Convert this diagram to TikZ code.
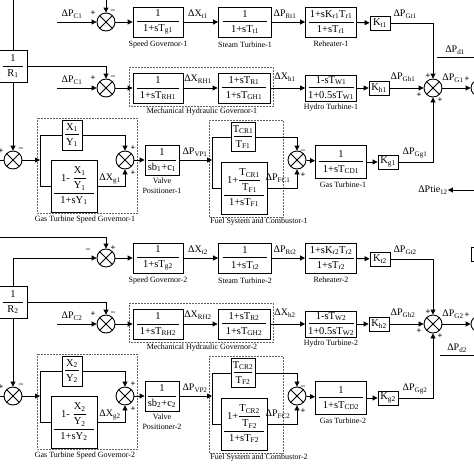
\documentclass[tikz,border=0pt]{standalone}
\usepackage{amsmath}
\usepackage{fontspec}
\setmainfont{Liberation Serif}
\usetikzlibrary{arrows.meta}

\newcommand{\sbs}[1]{\textsubscript{#1}}
\newcommand{\frb}[3]{$\genfrac{}{}{0.7pt}{0}{\makebox[#1]{#2}}{\makebox[#1]{#3}}$}

\tikzset{
	blk/.style={draw, line width=0.9pt, inner sep=1pt, font=\fontsize{10.5}{12}\selectfont},
	gain/.style={draw, line width=0.9pt, inner sep=1pt, minimum width=20pt, minimum height=14pt, font=\fontsize{10.5}{12}\selectfont},
	sumjn/.style={circle, draw, line width=0.9pt, minimum size=18pt, inner sep=0pt,
		path picture={\draw[line width=0.9pt] (path picture bounding box.north west) -- (path picture bounding box.south east)
			(path picture bounding box.south west) -- (path picture bounding box.north east);}},
	blkcap/.style={font=\fontsize{8}{10}\selectfont, inner sep=0pt},
	sig/.style={font=\fontsize{10}{12}\selectfont, inner sep=0pt},
	sgn/.style={font=\fontsize{8.5}{8}\selectfont\bfseries, inner sep=0pt},
	grp/.style={densely dotted, line width=0.5pt, draw=black!60},
	ar/.style={-{Triangle[length=5pt,width=5pt]}, line width=0.9pt},
	ln/.style={line width=0.9pt}
}

\begin{document}
\begin{tikzpicture}[x=1pt,y=-1pt]
	\useasboundingbox (0,0) rectangle (474,474);
	\clip (0,0) rectangle (474,474);

	\foreach \a/\oy in {1/0, 2/236} {
		% steam branch
		\node[sumjn] (sa\a) at (106,22+\oy) {};
		\node[blk, minimum width=50pt, minimum height=30pt] (sg\a) at (158,22+\oy) {\frb{42pt}{1}{1+sT\sbs{g\a}}};
		\node[blk, minimum width=53pt, minimum height=30pt] (st\a) at (245,22+\oy) {\frb{44pt}{1}{1+sT\sbs{t\a}}};
		\node[blk, minimum width=51pt, minimum height=30pt] (rh\a) at (331,22+\oy) {\frb{45pt}{1+sK\sbs{r\a}T\sbs{r\a}}{1+sT\sbs{r\a}}};
		\node[gain] (kt\a) at (380,23+\oy) {K\sbs{t\a}};
		\node[blkcap] (lsg\a) at (158,45+\oy) {Speed Governor-\a};
		\node[blkcap] (lst\a) at (245,45+\oy) {Steam Turbine-\a};
		\node[blkcap] (lrh\a) at (331,44+\oy) {Reheater-\a};
		\node[sig] (lxt\a) at (198,14+\oy) {ΔX\sbs{t\a}};
		\node[sig] (lprt\a) at (285,14+\oy) {ΔP\sbs{Rt\a}};
		\node[sig] (lpgt\a) at (405,14+\oy) {ΔP\sbs{Gt\a}};

		% hydro branch
		\node[sumjn] (sb\a) at (106,88+\oy) {};
		\node[blk, minimum width=50pt, minimum height=30pt] (rhg\a) at (158,88+\oy) {\frb{42pt}{1}{1+sT\sbs{RH\a}}};
		\node[blk, minimum width=52pt, minimum height=30pt] (ghb\a) at (244,88+\oy) {\frb{44pt}{1+sT\sbs{R\a}}{1+sT\sbs{GH\a}}};
		\node[blk, minimum width=51pt, minimum height=26pt] (hy\a) at (331,88+\oy) {\frb{45pt}{1-sT\sbs{W\a}}{1+0.5sT\sbs{W\a}}};
		\node[gain] (kh\a) at (379,88+\oy) {K\sbs{h\a}};
		\draw[grp] (129,67+\oy) rectangle (273,106+\oy);
		\node[blkcap] (lmh\a) at (202,112+\oy) {Mechanical Hydraulic Governor-\a};
		\node[blkcap] (lhy\a) at (331,108+\oy) {Hydro Turbine-\a};
		\node[sig] (lpc\a) at (72,80+\oy) {ΔP\sbs{C\a}};
		\node[sig] (lxrh\a) at (198,79+\oy) {ΔX\sbs{RH\a}};
		\node[sig] (lxh\a) at (285,77+\oy) {ΔX\sbs{h\a}};
		\node[sig] (lpgh\a) at (403,77+\oy) {ΔP\sbs{Gh\a}};

		% gas branch
		\node[sumjn] (sc\a) at (13,160+\oy) {};
		\coordinate (ja\a) at (40,160+\oy);
		\node[blk, minimum width=20pt, minimum height=30pt] (xy\a) at (72,135+\oy) {\frb{14pt}{X\sbs{\a}}{Y\sbs{\a}}};
		\node[blk, minimum width=46pt, minimum height=52pt] (xyb\a) at (74,186+\oy)
			{\frb{40pt}{1- \(\genfrac{}{}{0.6pt}{0}{\mbox{X\sbs{\a}}}{\mbox{Y\sbs{\a}}}\)}{1+sY\sbs{\a}}};
		\node[sumjn] (sd\a) at (125,160+\oy) {};
		\node[blk, minimum width=34pt, minimum height=30pt] (vp\a) at (162,160+\oy) {\frb{28pt}{1}{sb\sbs{\a}+c\sbs{\a}}};
		\coordinate (jb\a) at (212,160+\oy);
		\node[blk, minimum width=24pt, minimum height=29pt] (tc\a) at (243,137+\oy) {\frb{18pt}{T\sbs{CR\a}}{T\sbs{F\a}}};
		\node[blk, minimum width=46pt, minimum height=52pt] (tcb\a) at (244,188+\oy)
			{\frb{40pt}{1+\(\genfrac{}{}{0.6pt}{0}{\mbox{T\sbs{CR\a}}}{\mbox{T\sbs{F\a}}}\)}{1+sT\sbs{F\a}}};
		\node[sumjn] (se\a) at (297,160+\oy) {};
		\node[blk, minimum width=51pt, minimum height=33pt] (gt\a) at (341,162+\oy) {\frb{44pt}{1}{1+sT\sbs{CD\a}}};
		\node[gain] (kg\a) at (388,162+\oy) {K\sbs{g\a}};
		\draw[grp] (37,118+\oy) rectangle (137,213+\oy);
		\draw[grp] (209,120+\oy) rectangle (283,217+\oy);
		\node[blkcap] (lgs\a) at (85,220+\oy) {Gas Turbine Speed Governor-\a};
		\node[blkcap, align=center] (lvp\a) at (162,186+\oy) {Valve\\Positioner-\a};
		\node[blkcap] (lfs\a) at (259,222+\oy) {Fuel System and Combustor-\a};
		\node[blkcap] (lgt\a) at (343,185+\oy) {Gas Turbine-\a};
		\node[sig] (lxg\a) at (110,179+\oy) {ΔX\sbs{g\a}};
		\node[sig] (lpvp\a) at (195,152+\oy) {ΔP\sbs{VP\a}};
		\node[sig] (lpfc\a) at (278,178+\oy) {ΔP\sbs{FC\a}};
		\node[sig] (lpgg\a) at (415,153+\oy) {ΔP\sbs{Gg\a}};

		% area sum
		\node[sumjn] (sm\a) at (433,88+\oy) {};
		\node[circle, draw, line width=0.9pt, minimum size=16pt] (nx\a) at (479,88+\oy) {};
		\node[sig] (lpg\a) at (453,78+\oy) {ΔP\sbs{G\a}};

		% signs
		\node[sgn] (pb\a) at (93,78+\oy) {+};
		\node[sgn] (mb\a) at (113,77+\oy) {–};
		\node[sgn] (pc\a) at (1,151+\oy) {+};
		\node[sgn] (mc\a) at (21,149+\oy) {–};
		\node[sgn] (pd\a) at (133,148+\oy) {+};
		\node[sgn] (qd\a) at (133,173+\oy) {+};
		\node[sgn] (me\a) at (303,151+\oy) {–};
		\node[sgn] (pe\a) at (303,175+\oy) {+};
		\node[sgn] (pm\a) at (428,76+\oy) {+};
		\node[sgn] (qm\a) at (419,95+\oy) {+};
		\node[sgn] (rm\a) at (440,100+\oy) {+};
		\node[sgn] (pn\a) at (467,79+\oy) {+};

		% connectors
		\draw[ar] (sa\a) -- (sg\a);
		\draw[ar] (sg\a) -- (st\a);
		\draw[ar] (st\a) -- (rh\a);
		\draw[ar] (rh\a) -- (kt\a);
		\draw[ar] (kt\a) -| (sm\a.north);
		\draw[ar] (sb\a) -- (rhg\a);
		\draw[ar] (rhg\a) -- (ghb\a);
		\draw[ar] (ghb\a) -- (hy\a);
		\draw[ar] (hy\a) -- (kh\a);
		\draw[ar] (kh\a) -- (sm\a);
		\draw[ar] (sc\a) -- (ja\a);
		\draw[ln] (ja\a) |- (xy\a.west);
		\draw[ln] (ja\a) |- (xyb\a.west);
		\draw[ar] (xy\a.east) -| (sd\a.north);
		\draw[ar] (xyb\a.east) -| (sd\a.south);
		\draw[ar] (sd\a) -- (vp\a);
		\draw[ar] (vp\a) -- (jb\a);
		\draw[ln] (jb\a) |- (tc\a.west);
		\draw[ln] (jb\a) |- (tcb\a.west);
		\draw[ar] (tc\a.east) -| (se\a.north);
		\draw[ar] (tcb\a.east) -| (se\a.south);
		\draw[ar] (se\a) -- (gt\a);
		\draw[ar] (gt\a) -- (kg\a);
		\draw[ar] (kg\a) -| (sm\a.south);
		\draw[ar] (sm\a) -- (nx\a);
	}

	% area 1 feedback
	\node[blk, minimum width=28pt, minimum height=32pt] (r1) at (13,66) {\frb{20pt}{1}{R\sbs{1}}};
	\coordinate (fr1) at (13,0);
	\coordinate (fa1) at (106,0);
	\coordinate (pca1) at (57,22);
	\coordinate (pcb1) at (57,88);
	\coordinate (fc1) at (-2,160);
	\draw[ln] (fr1) -- (r1.north);
	\draw[ar] (fa1) -- (sa1.north);
	\draw[ar] (r1.east) -| (sb1.north);
	\draw[ar] (r1.south) -- (sc1.north);
	\draw[ar] (pca1) -- (sa1);
	\draw[ar] (pcb1) -- (sb1);
	\draw[ln] (fc1) -- (sc1);
	\node[sig] (lpca1) at (72,14) {ΔP\sbs{C1}};
	\node[sgn] (pa1) at (93,13) {+};
	\node[sgn] (ma1) at (113,11) {–};
	\node[sig] (ld1) at (455,50) {ΔP\sbs{d1}};
	\coordinate (d1a) at (437,57);
	\coordinate (d1b) at (476,57);
	\draw[ln] (d1a) -- (d1b);
	\node[sig] (ltie) at (433,190) {ΔPtie\sbs{12}};
	\coordinate (tie) at (476,190);
	\draw[ar] (tie) -- (ltie);

	% area 2 feedback
	\node[blk, minimum width=28pt, minimum height=32pt] (r2) at (13,302) {\frb{20pt}{1}{R\sbs{2}}};
	\coordinate (fa2) at (-2,237);
	\coordinate (pcb2) at (57,324);
	\coordinate (fc2) at (-2,396);
	\draw[ar] (fa2) -| (sa2.north);
	\draw[ar] (r2.north) |- (sa2.west);
	\draw[ar] (r2.east) -| (sb2.north);
	\draw[ar] (r2.south) -- (sc2.north);
	\draw[ar] (pcb2) -- (sb2);
	\draw[ln] (fc2) -- (sc2);
	\node[sgn] (ma2) at (88,250) {–};
	\node[sgn] (pa2) at (113,248) {+};
	\node[sig] (ld2) at (457,348) {ΔP\sbs{d2}};
	\coordinate (d2a) at (440,355);
	\coordinate (d2b) at (476,355);
	\draw[ln] (d2a) -- (d2b);
	\node[draw, line width=0.9pt, minimum width=10pt, minimum height=14pt] (pbx2) at (476,254) {};
\end{tikzpicture}
\end{document}
